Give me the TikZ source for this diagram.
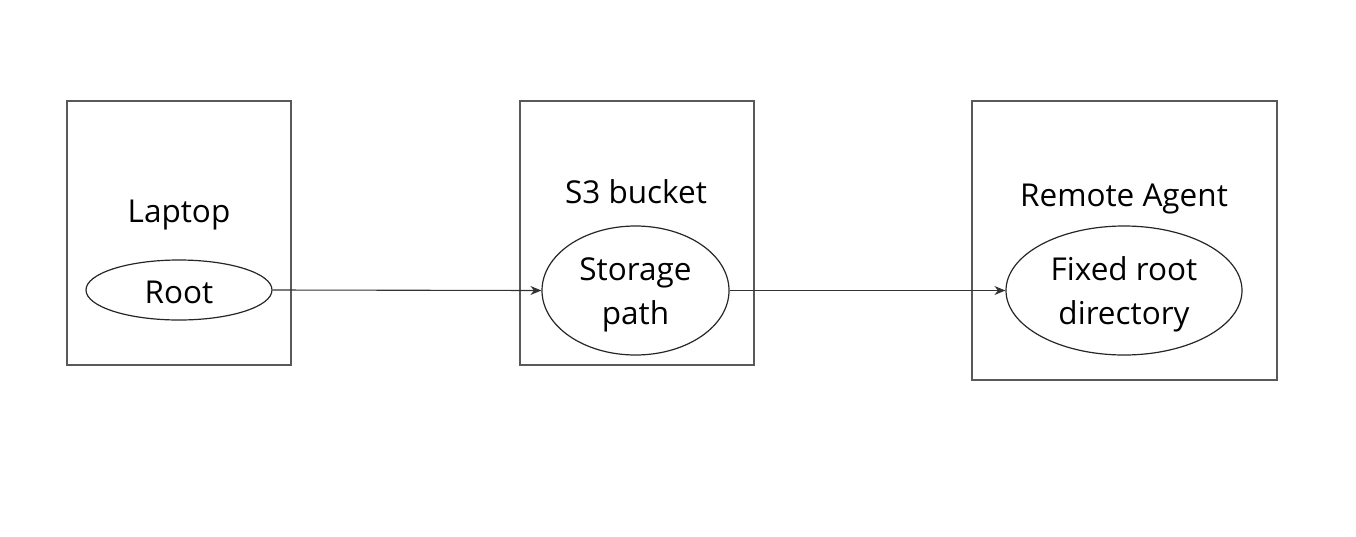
\documentclass[tikz,border=0pt]{standalone}
\usepackage{fontspec}
\setmainfont{Open Sans}
\usetikzlibrary{arrows.meta,shapes.geometric}
\begin{document}
\begin{tikzpicture}[x=1pt,y=-1pt,
  box/.style={draw=black!65,line width=1.2pt,inner sep=0pt},
  oval/.style={ellipse,draw=black!85,line width=1.2pt,inner sep=0pt,align=center,font=\fontsize{31.5}{44}\selectfont},
  two/.style={text height=76pt,text depth=7.6pt},
  one/.style={text height=27pt,text depth=0pt},
  lbl/.style={font=\fontsize{31.5}{44}\selectfont,inner sep=0pt},
  conn/.style={draw=black!80,line width=1.1pt,-{Stealth[length=11pt,width=9pt]}}]
\useasboundingbox (0,0) rectangle (1356,536);
\node[box,minimum width=224pt,minimum height=264pt] (b1) at (179,233) {};
\node[box,minimum width=234pt,minimum height=264pt] (b2) at (637,233) {};
\node[box,minimum width=305pt,minimum height=279pt] (b3) at (1124.5,240.5) {};
\node[lbl] (t1) at (179,215) {Laptop};
\node[lbl] (t2) at (636,192) {S3 bucket};
\node[lbl] (t3) at (1124,199) {Remote Agent};
\node[oval,one,minimum width=186pt,minimum height=60pt] (e1) at (179,290) {Root};
\node[oval,two,minimum width=187pt,minimum height=129pt] (e2) at (635.5,290.5) {Storage\\path};
\node[oval,two,minimum width=236pt,minimum height=129pt] (e3) at (1124,290.5) {Fixed root\\directory};
\draw[conn] (e1.east) -- (e2.west);
\draw[conn] (e2.east) -- (e3.west);
\end{tikzpicture}
\end{document}
